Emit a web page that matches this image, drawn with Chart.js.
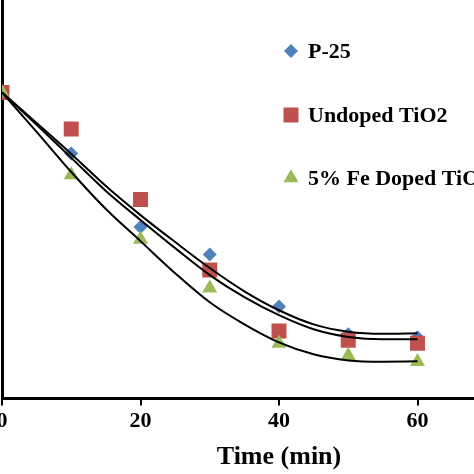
<!DOCTYPE html>
<html>
<head>
<meta charset="utf-8">
<script src="https://cdn.jsdelivr.net/npm/chart.js@4/dist/chart.umd.min.js"></script>
<style>
  html, body { margin: 0; padding: 0; overflow: hidden; background: #fff; }
  #wrap { position: relative; width: 474px; height: 474px; overflow: hidden; }
  #chart { position: absolute; left: -40px; top: -10px; }
</style>
</head>
<body>
<div id="wrap"><canvas id="chart" width="620" height="488"></canvas></div>
<script>
// measured points (C/C0 vs time)
const times = [0, 10, 20, 30, 40, 50, 60];
const p25 = [1.00, 0.80, 0.56, 0.47, 0.30, 0.21, 0.20];
const undoped = [1.00, 0.88, 0.65, 0.42, 0.22, 0.19, 0.18];
const feDoped = [1.00, 0.73, 0.52, 0.36, 0.18, 0.14, 0.12];

// trend lines
const fitTimes = [0, 5, 10, 15, 20, 25, 30, 35, 40, 45, 50, 55, 60];
const p25Fit = [1.00, 0.900, 0.799, 0.694, 0.599, 0.511, 0.426, 0.350, 0.288, 0.242, 0.218, 0.211, 0.213];
const undopedFit = [1.00, 0.894, 0.786, 0.678, 0.583, 0.491, 0.403, 0.331, 0.272, 0.226, 0.201, 0.193, 0.193];
const feDopedFit = [1.00, 0.871, 0.740, 0.619, 0.514, 0.409, 0.314, 0.242, 0.183, 0.144, 0.124, 0.120, 0.121];

const xTicks = [0, 20, 40, 60, 80];

const toPts = (xs, ys) => xs.map((x, i) => ({ x: x, y: ys[i] }));

const serif = '"Liberation Serif", "Times New Roman", serif';

function fitLine(label, values) {
    return {
        label: label,
        data: toPts(fitTimes, values),
        showLine: true,
        borderColor: '#000',
        borderWidth: 2,
        pointRadius: 0,
        cubicInterpolationMode: 'monotone',
        fill: false,
        order: 0
    };
}

// legend drawn by hand so it can sit inside the plot like the original
const legendPlugin = {
    id: 'sideLegend',
    afterDraw(chart) {
        const ctx = chart.ctx;
        const items = [
            { ds: chart.data.datasets[0], y: 61 },
            { ds: chart.data.datasets[1], y: 125 },
            { ds: chart.data.datasets[2], y: 188 }
        ];
        ctx.save();
        ctx.font = 'bold 22px ' + serif;
        ctx.textBaseline = 'middle';
        items.forEach(it => {
            ctx.fillStyle = it.ds.backgroundColor;
            ctx.strokeStyle = it.ds.backgroundColor;
            ctx.lineWidth = 1;
            Chart.helpers.drawPoint(ctx, {
                pointStyle: it.ds.pointStyle,
                radius: it.ds.pointRadius,
                borderWidth: 0
            }, 331, it.y);
            ctx.fillStyle = '#000';
            ctx.fillText(it.ds.label, 348, it.y + 1);
        });
        ctx.restore();
    }
};

new Chart(document.getElementById('chart').getContext('2d'), {
    type: 'scatter',
    data: {
        datasets: [
            {
                label: 'P-25',
                data: toPts(times, p25),
                pointStyle: 'rectRot',
                pointRadius: 7,
                backgroundColor: '#4F81BD',
                borderColor: '#4F81BD',
                borderWidth: 0,
                order: 3
            },
            {
                label: 'Undoped TiO2',
                data: toPts(times, undoped),
                pointStyle: 'rect',
                pointRadius: 10.6,
                backgroundColor: '#C0504D',
                borderColor: '#C0504D',
                borderWidth: 0,
                order: 2
            },
            {
                label: '5% Fe Doped TiO2',
                data: toPts(times, feDoped),
                pointStyle: 'triangle',
                pointRadius: 8.7,
                backgroundColor: '#9BBB59',
                borderColor: '#9BBB59',
                borderWidth: 0,
                order: 1
            },
            fitLine('P-25 fit', p25Fit),
            fitLine('Undoped fit', undopedFit),
            fitLine('Fe fit', feDopedFit)
        ]
    },
    options: {
        responsive: false,
        animation: false,
        devicePixelRatio: 1,
        layout: { padding: { left: 34, right: 24, top: 10, bottom: 1 } },
        plugins: {
            legend: { display: false },
            tooltip: { enabled: false }
        },
        scales: {
            x: {
                type: 'linear',
                min: 0,
                max: 80,
                afterBuildTicks: axis => { axis.ticks = xTicks.map(v => ({ value: v })); },
                grid: {
                    drawOnChartArea: false,
                    drawTicks: true,
                    tickLength: 7,
                    color: '#000',
                    lineWidth: 2
                },
                border: { display: true, color: '#000', width: 3 },
                ticks: {
                    color: '#000',
                    font: { family: serif, size: 22, weight: 'bold' },
                    padding: 3,
                    maxRotation: 0
                },
                title: {
                    display: true,
                    text: 'Time (min)',
                    color: '#000',
                    font: { family: serif, size: 26, weight: 'bold' },
                    padding: { top: 4, bottom: 4 }
                }
            },
            y: {
                type: 'linear',
                min: 0,
                max: 1.3,
                grid: { display: false },
                border: { display: true, color: '#000', width: 3 },
                ticks: { display: false }
            }
        }
    },
    plugins: [legendPlugin]
});
</script>
</body>
</html>
